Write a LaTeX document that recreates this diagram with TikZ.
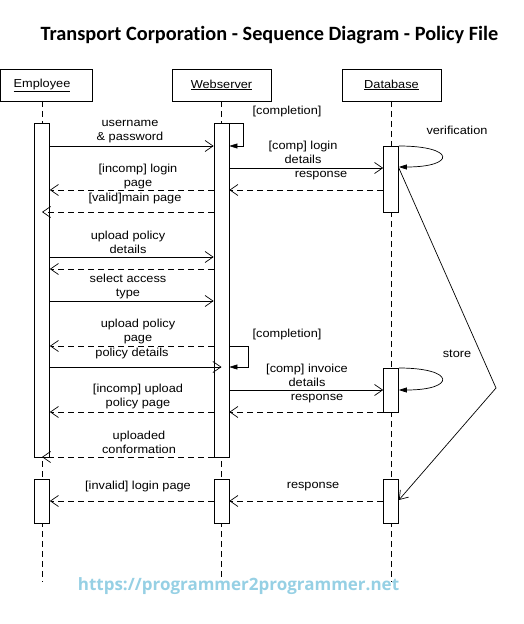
\documentclass[tikz,border=0pt]{standalone}
\usepackage{fontspec}
\setmainfont{Liberation Sans}[FakeStretch=1.1]
\newfontfamily\titlefont{Carlito}[Ligatures=NoCommon]
\newfontfamily\wmfont{Open Sans}
\usetikzlibrary{arrows.meta}
\definecolor{wmblue}{RGB}{150,208,228}
\begin{document}
\begin{tikzpicture}[x=1bp,y=-1bp,
  line width=0.7pt,
  every node/.style={font=\fontsize{11.6bp}{14bp}\selectfont, align=center, inner sep=0pt},
  head/.style={draw, minimum width=99bp, minimum height=32bp},
  act/.style={draw, fill=white, minimum width=15bp},
  life/.style={dash pattern=on 6bp off 4bp, line width=0.6pt},
  msg/.style={-{Straight Barb[length=8bp,width=11bp,line width=0.7pt]}},
  ret/.style={msg, dash pattern=on 6bp off 4bp},
  self/.style={-{Triangle[length=8bp,width=5bp]}},
  lbl/.style={yshift=-2.5bp}
]
\useasboundingbox (0,0) rectangle (524,624);
% title
\node[font=\titlefont\bfseries\fontsize{20.3bp}{24bp}\selectfont] (title) at (269.5,35) {Transport Corporation - Sequence Diagram - Policy File};
% heads
\node[head, minimum width=91.5bp] (ehead) at (46.25,85) {};
\node (etext) at (42,85) {\underline{Employee}};
\node[head] (whead) at (221.5,85) {\underline{Webserver}};
\node[head] (dhead) at (391.5,85) {\underline{Database}};
% lifelines
\coordinate (eend) at (42,582);
\coordinate (wend) at (221.5,582);
\coordinate (dend) at (391,582);
\draw[life] (42,101) -- (eend);
\draw[life] (whead.south) -- (wend);
\draw[life] (391,101) -- (dend);
% activations
\node[act, minimum height=334bp] (e1) at (42,290) {};
\node[act, minimum height=334bp] (w1) at (221.5,290) {};
\node[act, minimum height=66bp] (d1) at (391,179) {};
\node[act, minimum height=44bp] (d2) at (391,390) {};
\node[act, minimum height=44bp] (e2) at (42,501) {};
\node[act, minimum height=44bp] (w2) at (221.5,501) {};
\node[act, minimum height=44bp] (d3) at (391,501) {};
% 1
\draw[msg] (e1.east |- 0,146) -- (w1.west |- 0,146);
\node[lbl] (l1) at (130,129) {username\\\& password};
% 2 self call
\draw[self] (w1.east |- 0,123) -- (243,123) -- (243,146) -- (w1.east |- 0,146);
\node[lbl] (l2) at (287,109) {[completion]};
% 3
\draw[msg] (w1.east |- 0,168) -- (d1.west |- 0,168);
\node[lbl] (l3) at (303,150) {[comp] login\\details};
% 4 verification loop
\draw[self] (d1.east |- 0,146) .. controls (456,146) and (456,167) .. (d1.east |- 0,167);
\node[lbl] (l4) at (457,128) {verification};
% 5
\draw[ret] (d1.west |- 0,190) -- (w1.east |- 0,190);
\node[lbl] (l5) at (321,173) {response};
% 6
\draw[ret] (w1.west |- 0,190) -- (e1.east |- 0,190);
\node[lbl] (l6) at (138,174) {[incomp] login\\page};
% 7
\draw[ret] (w1.west |- 0,212) -- (e1.center |- 0,212);
\node[lbl] (l7) at (135,196) {[valid]main page};
% 8
\draw[msg] (e1.east |- 0,257) -- (w1.west |- 0,257);
\node[lbl] (l8) at (128,240) {upload policy\\details};
% 9
\draw[ret] (w1.west |- 0,269) -- (e1.east |- 0,269);
% 10
\draw[msg] (e1.east |- 0,301) -- (w1.west |- 0,301);
\node[lbl] (l10) at (128,284) {select access\\type};
% 11
\draw[ret] (w1.west |- 0,346) -- (e1.east |- 0,346);
\node[lbl] (l11) at (138,329) {upload policy\\page};
% 12 self call
\draw[self] (w1.east |- 0,346) -- (248,346) -- (248,367) -- (w1.east |- 0,367);
\node[lbl] (l12) at (287,332) {[completion]};
% 13
\draw[msg] (e1.east |- 0,367) -- (w1.center |- 0,367);
\node[lbl] (l13) at (132,351) {policy details};
% 14
\draw[msg] (w1.east |- 0,390) -- (d2.west |- 0,390);
\node[lbl] (l14) at (307,373) {[comp] invoice\\details};
% 15 loop
\draw[self] (d2.east |- 0,368) .. controls (456,368) and (456,390) .. (d2.east |- 0,390);
% store
\coordinate (bend) at (496,388);
\draw[msg] (d1.east |- 0,168) -- (bend) -- (d3.east |- 0,500);
\node[lbl] (lstore) at (457,351) {store};
% 16
\draw[ret] (d2.west |- 0,412) -- (w1.east |- 0,412);
\node[lbl] (l16) at (317,396) {response};
% 17
\draw[ret] (w1.west |- 0,412) -- (e1.east |- 0,412);
\node[lbl] (l17) at (138,394) {[incomp] upload\\policy page};
% 18
\draw[ret] (w1.west |- 0,457) -- (e1.center |- 0,457);
\node[lbl] (l18) at (139,440) {uploaded\\conformation};
% 19
\draw[ret] (w2.west |- 0,501) -- (e2.east |- 0,501);
\node[lbl] (l19) at (138,484) {[invalid] login page};
% 20
\draw[ret] (d3.west |- 0,501) -- (w2.east |- 0,501);
\node[lbl] (l20) at (313,484) {response};
% watermark
\node[font=\wmfont\bfseries\fontsize{17bp}{19bp}\selectfont, text=wmblue] (wm) at (238.5,586) {https://programmer2programmer.net};
\end{tikzpicture}
\end{document}
